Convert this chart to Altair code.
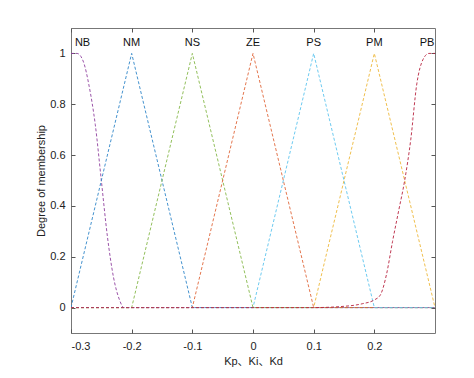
import altair as alt
import pandas as pd

# ---- data ----
series_names = ["NB", "NM", "NS", "ZE", "PM", "PS", "PB"]
series_colors = ["#8E3F9E", "#2F86C8", "#86B84A", "#E0663A", "#EDB83A", "#5CC4EE", "#B8243F"]

nb_x = [-0.3, -0.29, -0.28, -0.27, -0.26, -0.25, -0.24, -0.23, -0.22, -0.213, 0.3]
nb_y = [1.0, 1.0, 0.97, 0.87, 0.72, 0.5, 0.28, 0.12, 0.03, 0.0, 0.0]

nm_x = [-0.3, -0.2, -0.1, 0.3]
nm_y = [0.0, 1.0, 0.0, 0.0]

ns_x = [-0.3, -0.2, -0.1, 0.0, 0.3]
ns_y = [0.0, 0.0, 1.0, 0.0, 0.0]

ze_x = [-0.3, -0.1, 0.0, 0.1, 0.3]
ze_y = [0.0, 0.0, 1.0, 0.0, 0.0]

pm_x = [-0.3, 0.1, 0.2, 0.3]
pm_y = [0.0, 0.0, 1.0, 0.0]

ps_x = [-0.3, 0.0, 0.1, 0.2, 0.3]
ps_y = [0.0, 0.0, 1.0, 0.0, 0.0]

pb_x = [-0.3, 0.1, 0.15, 0.18, 0.2, 0.21, 0.22, 0.23, 0.24, 0.25, 0.26, 0.27, 0.28, 0.29, 0.3]
pb_y = [0.0, 0.0, 0.005, 0.015, 0.03, 0.05, 0.13, 0.26, 0.38, 0.5, 0.66, 0.88, 0.975, 1.0, 1.0]

label_names = ["NB", "NM", "NS", "ZE", "PS", "PM", "PB"]
label_x = [-0.281, -0.2, -0.1, 0.0, 0.1, 0.2, 0.287]
label_y = [1.04] * 7

x_ticks = [-0.3, -0.2, -0.1, 0.0, 0.1, 0.2]
y_ticks = [0.0, 0.2, 0.4, 0.6, 0.8, 1.0]
x_domain = [-0.3, 0.3]
y_domain = [-0.1, 1.1]

series_data = {
    "NB": (nb_x, nb_y, "monotone"),
    "NM": (nm_x, nm_y, "linear"),
    "NS": (ns_x, ns_y, "linear"),
    "ZE": (ze_x, ze_y, "linear"),
    "PM": (pm_x, pm_y, "linear"),
    "PS": (ps_x, ps_y, "linear"),
    "PB": (pb_x, pb_y, "monotone"),
}

W, H = 364, 305
FONT = "Liberation Sans"
TFONT = "Liberation Sans, Noto Sans CJK SC"
AX = "#555555"
TXT = "#222222"

xs = alt.Scale(domain=x_domain, nice=False, zero=False)
ys = alt.Scale(domain=y_domain, nice=False, zero=False)

all_df = pd.DataFrame({"x": nm_x, "y": nm_y})

fix_minus = "replace(datum.label, '\u2212', '-')"

# main axes: labels and titles, no ticks
axis_main = alt.Chart(all_df).mark_line(opacity=0).encode(
    x=alt.X("x:Q", scale=xs, title="Kp、Ki、Kd",
            axis=alt.Axis(orient="bottom", values=x_ticks, format="~g", tickSize=0, domain=False,
                          grid=False, labelExpr=fix_minus, labelFont=FONT, labelFontSize=11,
                          labelColor=TXT, labelPadding=7, titleFont=TFONT, titleFontSize=11,
                          titleFontWeight="normal", titleColor=TXT, titleY=28,
                          titleBaseline="middle")),
    y=alt.Y("y:Q", scale=ys, title="Degree of membership",
            axis=alt.Axis(orient="left", values=y_ticks, format="~g", tickSize=0, domain=False,
                          grid=False, labelExpr=fix_minus, labelFont=FONT, labelFontSize=11,
                          labelColor=TXT, labelPadding=6, titleFont=FONT, titleFontSize=11,
                          titleFontWeight="normal", titleColor=TXT, titleX=-30,
                          titleBaseline="middle")),
)

# inward ticks at bottom and left edges
ticks_a = alt.Chart(all_df).mark_line(opacity=0).encode(
    x=alt.X("x:Q", scale=xs, title=None,
            axis=alt.Axis(orient="top", offset=-H, values=x_ticks, tickSize=4, tickColor=AX,
                          ticks=True, labels=False, domain=False, grid=False)),
    y=alt.Y("y:Q", scale=ys, title=None,
            axis=alt.Axis(orient="right", offset=-W, values=y_ticks, tickSize=4, tickColor=AX,
                          ticks=True, labels=False, domain=False, grid=False)),
)

# inward ticks at top and right edges
ticks_b = alt.Chart(all_df).mark_line(opacity=0).encode(
    x=alt.X("x:Q", scale=xs, title=None,
            axis=alt.Axis(orient="bottom", offset=-H, values=x_ticks, tickSize=4, tickColor=AX,
                          ticks=True, labels=False, domain=False, grid=False)),
    y=alt.Y("y:Q", scale=ys, title=None,
            axis=alt.Axis(orient="left", offset=-W, values=y_ticks, tickSize=4, tickColor=AX,
                          ticks=True, labels=False, domain=False, grid=False)),
)

layers = [axis_main, ticks_a, ticks_b]
for name, color in zip(series_names, series_colors):
    sx, sy, interp = series_data[name]
    df = pd.DataFrame({"x": sx, "y": sy})
    layers.append(
        alt.Chart(df).mark_line(color=color, strokeWidth=0.9, strokeDash=[3, 2],
                                interpolate=interp, clip=True).encode(
            x=alt.X("x:Q", scale=xs, axis=None),
            y=alt.Y("y:Q", scale=ys, axis=None),
        )
    )

labels_df = pd.DataFrame({"name": label_names, "x": label_x, "y": label_y})
layers.append(
    alt.Chart(labels_df).mark_text(font=FONT, fontSize=11, color="#111111",
                                   baseline="middle", align="center").encode(
        x=alt.X("x:Q", scale=xs, axis=None),
        y=alt.Y("y:Q", scale=ys, axis=None),
        text="name:N",
    )
)

chart = alt.layer(*layers).resolve_axis(x="independent", y="independent").properties(
    width=W, height=H,
    autosize=alt.AutoSizeParams(type="none"),
    padding={"left": 71, "top": 28, "right": 39, "bottom": 45},
    background="white",
).configure_view(stroke="#777777", strokeWidth=1)

chart.save("out.html", embed_options={"renderer": "svg", "actions": False})
